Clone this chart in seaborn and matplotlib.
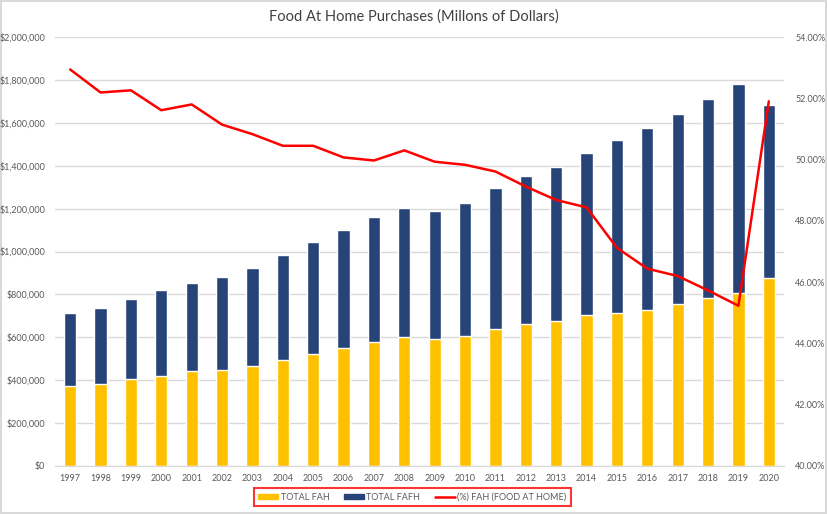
import numpy as np
import matplotlib.pyplot as plt
import seaborn as sns
from matplotlib.lines import Line2D
from matplotlib.patches import Patch
from matplotlib.ticker import FuncFormatter, MultipleLocator

# data (millions of dollars)
years = [str(y) for y in range(1997, 2021)]
total_fah = [374, 383, 406, 420, 443, 448, 467, 495, 522, 550, 578, 601,
             592, 606, 639, 662, 676, 704, 713, 727, 755, 783, 806, 876]
total_fafh = [339, 353, 372, 400, 410, 433, 455, 488, 521, 549, 582, 601,
              596, 619, 656, 688, 716, 753, 809, 847, 884, 930, 977, 809]
pct_fah = [52.94, 52.19, 52.26, 51.61, 51.80, 51.14, 50.83, 50.45, 50.45, 50.07, 49.97, 50.30,
           49.93, 49.83, 49.61, 49.12, 48.68, 48.44, 47.12, 46.44, 46.20, 45.73, 45.23, 51.90]

fah = np.array(total_fah) * 1000
fafh = np.array(total_fafh) * 1000
both = fah + fafh

c_fah = '#FFC000'
c_fafh = '#264478'
c_line = '#FF0000'
grey = '#595959'

sns.set_style("white")
plt.rcParams['font.family'] = ['Lato', 'DejaVu Sans']

fig = plt.figure(figsize=(8.27, 5.14), dpi=100)
fig.patch.set_edgecolor('#D9D9D9')
fig.patch.set_linewidth(1.5)
ax = fig.add_axes([0.0665, 0.0934, 0.8815, 0.8346])

# stacked bars: total (navy) underneath, FAH (yellow) drawn over it
sns.barplot(x=years, y=both, color=c_fafh, width=0.4, saturation=1, ax=ax)
sns.barplot(x=years, y=fah, color=c_fah, width=0.4, saturation=1, ax=ax)

ax.set_ylim(0, 2000000)
ax.set_xlim(-0.5, len(years) - 0.5)
ax.yaxis.set_major_locator(MultipleLocator(200000))
ax.yaxis.set_major_formatter(FuncFormatter(lambda v, p: f"${v:,.0f}"))
ax.yaxis.grid(True, color='#D9D9D9', linewidth=1)
ax.set_axisbelow(True)
for s in ['top', 'right', 'left']:
    ax.spines[s].set_visible(False)
ax.spines['bottom'].set_color('#D9D9D9')
ax.tick_params(axis='y', length=0, labelsize=6.5, colors=grey, pad=7)
ax.tick_params(axis='x', length=0, labelsize=6.5, colors=grey, pad=6)
ax.set_xlabel('')
ax.set_ylabel('')

ax2 = ax.twinx()
sns.lineplot(x=np.arange(len(years)), y=pct_fah, color=c_line, linewidth=1.8, ax=ax2)
ax2.set_ylim(40, 54)
ax2.yaxis.set_major_locator(MultipleLocator(2))
ax2.yaxis.set_major_formatter(FuncFormatter(lambda v, p: f"{v:.2f}%"))
ax2.grid(False)
for s in ax2.spines.values():
    s.set_visible(False)
ax2.tick_params(axis='y', length=0, labelsize=6.5, colors=grey, pad=8)
ax2.set_xlim(-0.5, len(years) - 0.5)

fig.text(0.5, 0.968, "Food At Home Purchases (Millons of Dollars)", ha='center', va='center',
         fontsize=10.5, color='#404040')

handles = [Patch(color=c_fah, label='TOTAL FAH'),
           Patch(color=c_fafh, label='TOTAL FAFH'),
           Line2D([0], [0], color=c_line, linewidth=1.8, label='(%) FAH (FOOD AT HOME)')]
leg = fig.legend(handles=handles, loc='center', bbox_to_anchor=(0.4985, 0.0325), ncol=3,
                 fontsize=6.5, frameon=True, fancybox=False, handlelength=2.2, handleheight=0.45,
                 handletextpad=0.3, columnspacing=1.6, borderpad=0.5, labelcolor=grey)
leg.get_frame().set_edgecolor(c_line)
leg.get_frame().set_linewidth(1.5)

fig.savefig('out.png', dpi=100, edgecolor=fig.get_edgecolor())
